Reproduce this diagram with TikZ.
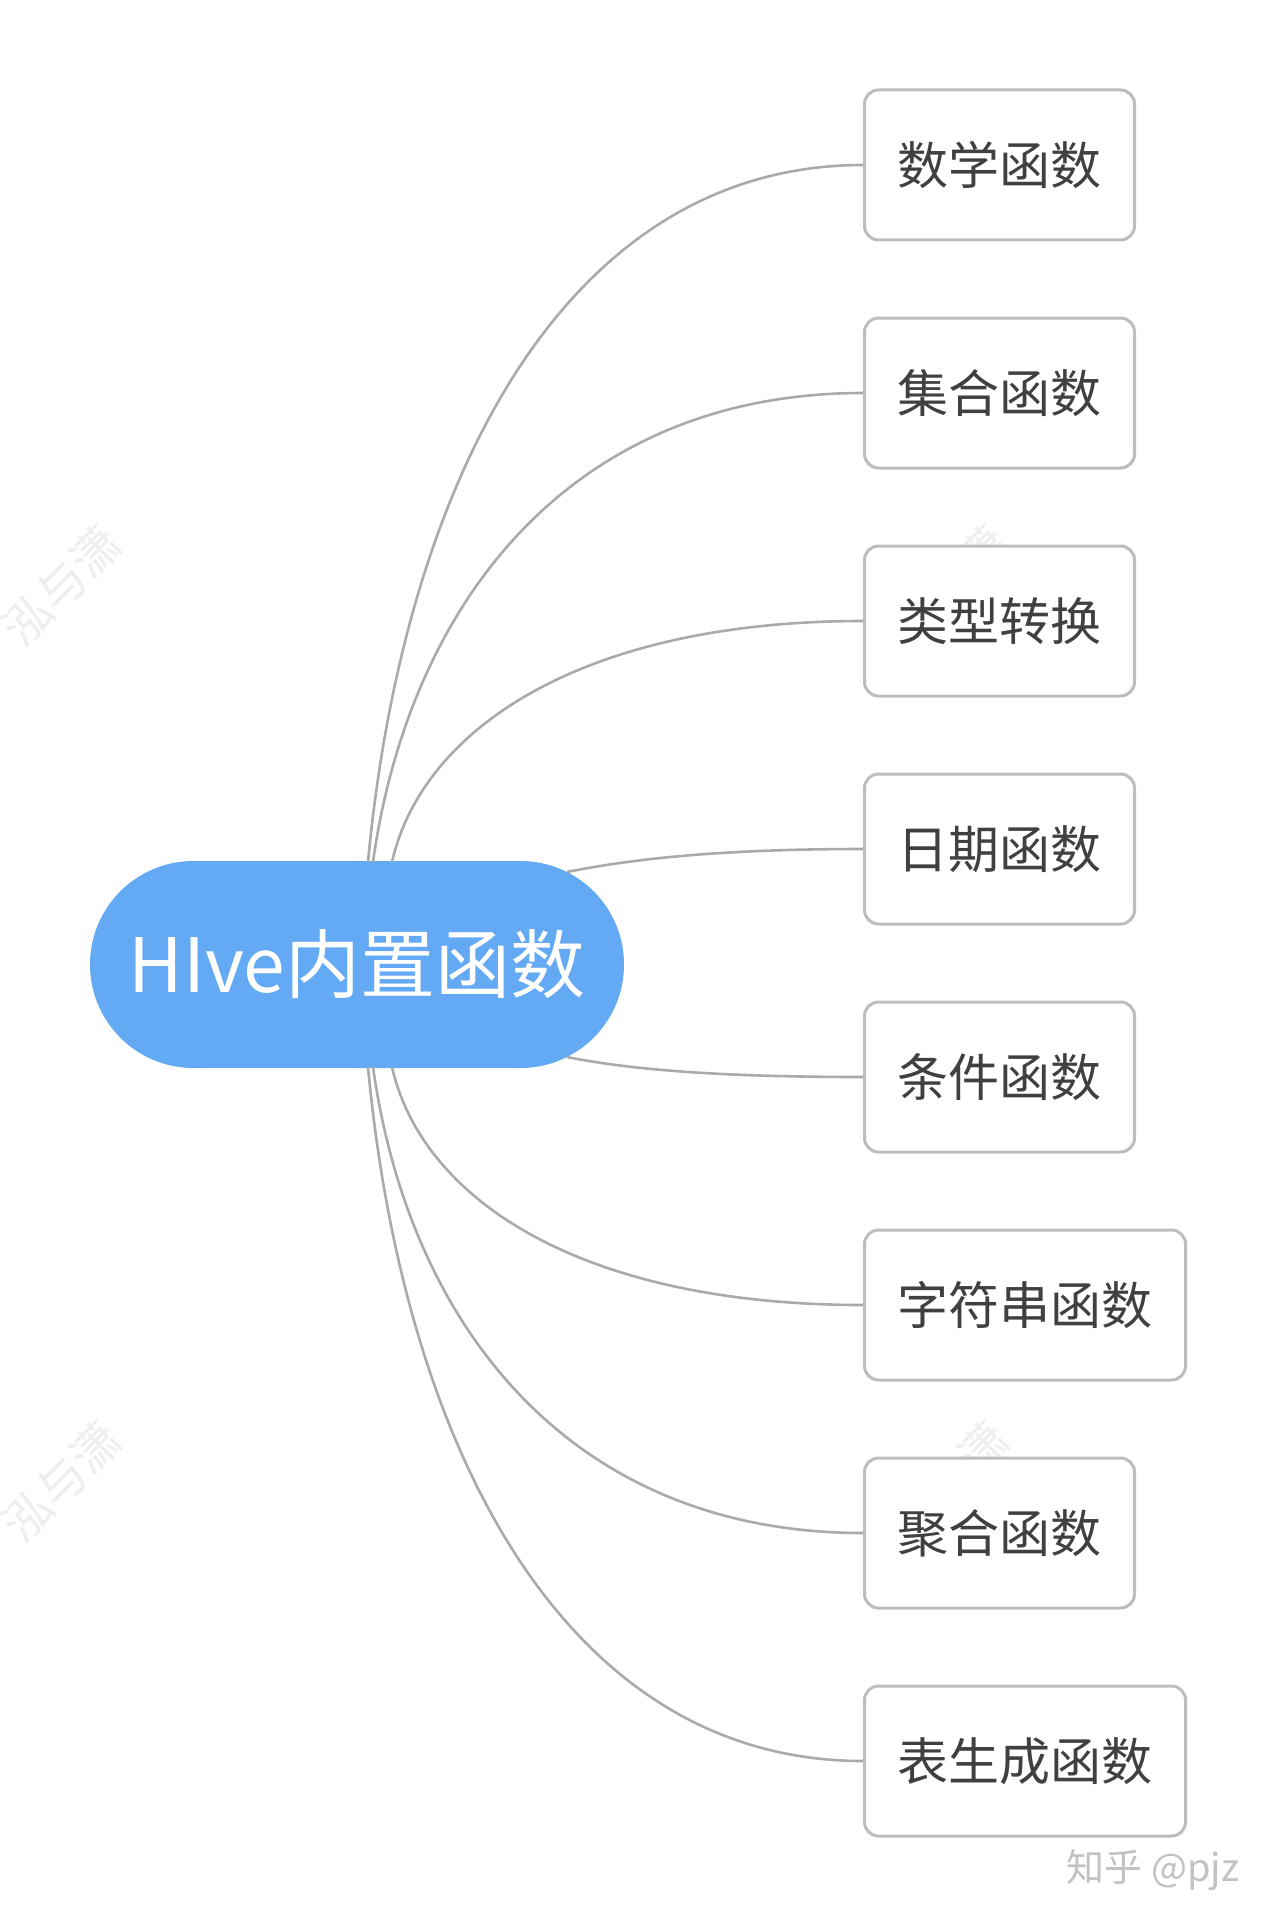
\documentclass[tikz,border=0pt]{standalone}
\usepackage{fontspec}
\setmainfont{Noto Sans CJK SC}
\definecolor{rootblue}{HTML}{63A9F3}
\definecolor{linegray}{HTML}{AAAAAA}
\definecolor{boxgray}{HTML}{BDBDBD}
\definecolor{txtgray}{HTML}{404040}
\definecolor{wmgray}{HTML}{EEEEEE}
\definecolor{zhgray}{HTML}{C2C2C2}
\tikzset{
  rootnode/.style={fill=rootblue, draw=none, rounded corners=103.5pt,
    minimum width=534pt, minimum height=207pt, inner sep=0pt,
    text=white, font=\fontsize{75pt}{80pt}\selectfont},
  leaf/.style={draw=boxgray, line width=3pt, fill=white, rounded corners=14pt,
    minimum height=150pt, inner xsep=33pt, inner ysep=0pt, anchor=west,
    text=txtgray, font=\fontsize{51pt}{55pt}\selectfont},
  conn/.style={draw=linegray, line width=2.6pt},
  wmark/.style={text=wmgray, rotate=45, font=\fontsize{48pt}{52pt}\selectfont},
}
\begin{document}
\begin{tikzpicture}[x=1pt,y=-1pt]
\useasboundingbox[fill=white] (0,0) rectangle (1274,1926);
% faint watermarks
\node[wmark] (wm1) at (62,586) {泓与潇};
\node[wmark] (wm2) at (62,1482) {泓与潇};
\node[wmark] (wm3) at (950,586) {泓与潇};
\node[wmark] (wm4) at (950,1482) {泓与潇};
% root
\node[rootnode] (root) at (357,964.5) {HIve内置函数};
% start points on root border
\coordinate (s1) at (368,862);
\coordinate (s2) at (373,862);
\coordinate (s3) at (392,862);
\coordinate (s4) at (567,872);
\coordinate (s5) at (567,1057);
\coordinate (s6) at (392,1067);
\coordinate (s7) at (373,1067);
\coordinate (s8) at (368,1067);
% connectors (drawn behind boxes)
\draw[conn] (s1) .. controls +(36,-383) and +(-297,0) .. (863,165) coordinate (e1);
\draw[conn] (s2) .. controls +(36,-257) and +(-294,0) .. (863,393) coordinate (e2);
\draw[conn] (s3) .. controls +(30,-132) and +(-283,0) .. (863,621) coordinate (e3);
\draw[conn] (s4) .. controls +(60,-12) and +(-150,0) .. (863,849) coordinate (e4);
\draw[conn] (s5) .. controls +(60,12) and +(-150,0) .. (863,1077) coordinate (e5);
\draw[conn] (s6) .. controls +(30,132) and +(-283,0) .. (863,1305) coordinate (e6);
\draw[conn] (s7) .. controls +(36,257) and +(-294,0) .. (863,1533) coordinate (e7);
\draw[conn] (s8) .. controls +(36,383) and +(-297,0) .. (863,1761) coordinate (e8);
% leaf boxes
\node[leaf] (b1) at (e1) {数学函数};
\node[leaf] (b2) at (e2) {集合函数};
\node[leaf] (b3) at (e3) {类型转换};
\node[leaf] (b4) at (e4) {日期函数};
\node[leaf] (b5) at (e5) {条件函数};
\node[leaf] (b6) at (e6) {字符串函数};
\node[leaf] (b7) at (e7) {聚合函数};
\node[leaf] (b8) at (e8) {表生成函数};
% zhihu watermark
\node[text=zhgray, font=\fontsize{38pt}{42pt}\selectfont, anchor=center] (zh) at (1153,1870) {知乎 @pjz};
\end{tikzpicture}
\end{document}
